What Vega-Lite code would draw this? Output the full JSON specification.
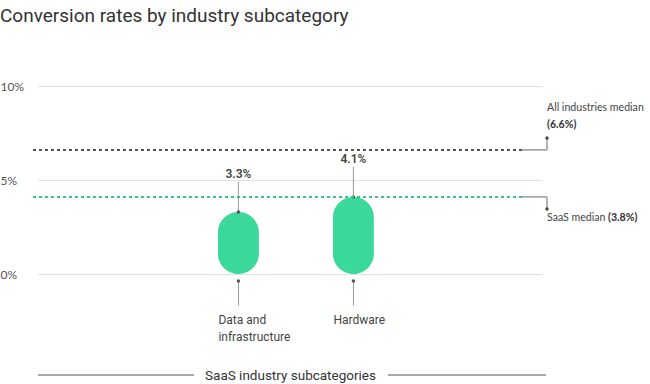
{
  "$schema": "https://vega.github.io/schema/vega-lite/v6.json",
  "autosize": {"type": "none"},
  "width": 504,
  "height": 188,
  "padding": {"left": 38, "top": 86, "right": 108, "bottom": 110},
  "background": "white",
  "title": {
    "text": "Conversion rates by industry subcategory",
    "anchor": "start",
    "frame": "group",
    "font": "Roboto",
    "fontSize": 19,
    "fontWeight": 400,
    "color": "#333333",
    "dx": -38,
    "dy": -50
  },
  "datasets": {
    "bars": [
      {"category": "Data and infrastructure", "value": 3.3, "label": "3.3%"},
      {"category": "Hardware", "value": 4.1, "label": "4.1%"}
    ],
    "medians": [
      {"type": "all", "name": "All industries median", "value": 6.6, "label": "(6.6%)"},
      {"type": "saas", "name": "SaaS median", "value": 4.1, "label": "(3.8%)"}
    ],
    "deco": [{"part": "line"}]
  },
  "config": {
    "view": {"stroke": null},
    "axis": {"labelFont": "Lato", "titleFont": "Roboto"}
  },
  "layer": [
    {
      "data": {"name": "bars"},
      "mark": {"type": "bar", "cornerRadius": 20.5, "color": "#3AD99A"},
      "encoding": {
        "x": {
          "field": "category",
          "type": "nominal",
          "sort": null,
          "scale": {"domain": [" ", "Data and infrastructure", "Hardware", "  "], "paddingInner": 0.643, "paddingOuter": 0.513, "align": 0.55},
          "axis": {
            "values": ["Data and infrastructure", "Hardware"],
            "orient": "bottom",
            "offset": 7,
            "domain": false,
            "ticks": true,
            "tickSize": 24,
            "tickColor": "#999999",
            "tickWidth": 1,
            "labelAngle": 0,
            "labelAlign": "left",
            "labelBaseline": "top",
            "labelOffset": -20,
            "labelPadding": 9,
            "labelFont": "Roboto",
            "labelFontSize": 12,
            "labelColor": "#444444",
            "labelLineHeight": 17,
            "labelExpr": "datum.label == 'Data and infrastructure' ? ['Data and', 'infrastructure'] : datum.label",
            "title": "SaaS industry subcategories",
            "titleFont": "Roboto",
            "titleFontSize": 13.5,
            "titleFontWeight": 400,
            "titleColor": "#333333",
            "titleY": 94,
            "titleBaseline": "middle"
          }
        },
        "y": {
          "field": "value",
          "type": "quantitative",
          "scale": {"domain": [0, 10], "nice": false},
          "axis": {
            "values": [0, 5, 10],
            "domain": false,
            "ticks": false,
            "grid": true,
            "gridColor": "#e0e0e0",
            "gridWidth": 1,
            "labelExpr": "datum.value + '%'",
            "labelAlign": "left",
            "labelBaseline": "middle",
            "labelPadding": 38,
            "labelFont": "Lato",
            "labelFontSize": 12,
            "labelColor": "#555555",
            "title": null
          }
        }
      }
    },
    {
      "data": {"name": "bars"},
      "mark": {"type": "rule", "color": "#999999", "strokeWidth": 1, "y2Offset": -30},
      "encoding": {
        "x": {"field": "category", "type": "nominal"},
        "y": {"field": "value", "type": "quantitative"},
        "y2": {"field": "value"}
      }
    },
    {
      "data": {"name": "bars"},
      "mark": {"type": "point", "filled": true, "color": "#555555", "size": 12, "opacity": 1},
      "encoding": {
        "x": {"field": "category", "type": "nominal"},
        "y": {"field": "value", "type": "quantitative"}
      }
    },
    {
      "data": {"name": "bars"},
      "mark": {"type": "point", "filled": true, "color": "#555555", "size": 12, "opacity": 1, "yOffset": 7},
      "encoding": {
        "x": {"field": "category", "type": "nominal"},
        "y": {"datum": 0, "type": "quantitative"}
      }
    },
    {
      "data": {"name": "bars"},
      "mark": {"type": "text", "font": "Roboto", "fontSize": 12, "fontWeight": 600, "color": "#444444", "baseline": "middle", "yOffset": -38},
      "encoding": {
        "x": {"field": "category", "type": "nominal"},
        "y": {"field": "value", "type": "quantitative"},
        "text": {"field": "label"}
      }
    },
    {
      "data": {"name": "medians"},
      "mark": {"type": "rule", "strokeWidth": 2, "strokeDash": [3, 3], "xOffset": -5, "x2Offset": -20},
      "encoding": {
        "x": {"value": 0},
        "x2": {"value": "width"},
        "y": {"field": "value", "type": "quantitative"},
        "color": {"field": "type", "type": "nominal", "scale": {"domain": ["all", "saas"], "range": ["#555555", "#3DBE8B"]}, "legend": null}
      }
    },
    {
      "data": {"name": "medians"},
      "mark": {"type": "rule", "strokeWidth": 1, "color": "#666666", "xOffset": -20, "x2Offset": 5},
      "encoding": {
        "x": {"value": "width"},
        "x2": {"value": "width"},
        "y": {"field": "value", "type": "quantitative"}
      }
    },
    {
      "data": {"name": "medians"},
      "transform": [{"filter": "datum.type == 'all'"}],
      "layer": [
        {
          "mark": {"type": "rule", "strokeWidth": 1, "color": "#666666", "xOffset": 5, "y2Offset": -12},
          "encoding": {
            "x": {"value": "width"},
            "y": {"field": "value", "type": "quantitative"},
            "y2": {"field": "value"}
          }
        },
        {
          "mark": {"type": "point", "filled": true, "color": "#444444", "size": 12, "opacity": 1, "xOffset": 5, "yOffset": -12},
          "encoding": {
            "x": {"value": "width"},
            "y": {"field": "value", "type": "quantitative"}
          }
        },
        {
          "mark": {"type": "text", "font": "Lato", "fontSize": 10.6, "color": "#444444", "align": "left", "baseline": "middle", "xOffset": 5, "yOffset": -42},
          "encoding": {
            "x": {"value": "width"},
            "y": {"field": "value", "type": "quantitative"},
            "text": {"field": "name"}
          }
        },
        {
          "mark": {"type": "text", "font": "Lato", "fontSize": 10.6, "fontWeight": "bold", "color": "#333333", "align": "left", "baseline": "middle", "xOffset": 5, "yOffset": -25},
          "encoding": {
            "x": {"value": "width"},
            "y": {"field": "value", "type": "quantitative"},
            "text": {"field": "label"}
          }
        }
      ]
    },
    {
      "data": {"name": "medians"},
      "transform": [{"filter": "datum.type == 'saas'"}],
      "layer": [
        {
          "mark": {"type": "rule", "strokeWidth": 1, "color": "#666666", "xOffset": 5, "y2Offset": 12},
          "encoding": {
            "x": {"value": "width"},
            "y": {"field": "value", "type": "quantitative"},
            "y2": {"field": "value"}
          }
        },
        {
          "mark": {"type": "point", "filled": true, "color": "#444444", "size": 12, "opacity": 1, "xOffset": 5, "yOffset": 12},
          "encoding": {
            "x": {"value": "width"},
            "y": {"field": "value", "type": "quantitative"}
          }
        },
        {
          "mark": {"type": "text", "font": "Lato", "fontSize": 10.6, "color": "#444444", "align": "left", "baseline": "middle", "xOffset": 5, "yOffset": 21},
          "encoding": {
            "x": {"value": "width"},
            "y": {"field": "value", "type": "quantitative"},
            "text": {"field": "name"}
          }
        },
        {
          "mark": {"type": "text", "font": "Lato", "fontSize": 10.6, "fontWeight": "bold", "color": "#333333", "align": "left", "baseline": "middle", "xOffset": 66, "yOffset": 21},
          "encoding": {
            "x": {"value": "width"},
            "y": {"field": "value", "type": "quantitative"},
            "text": {"field": "label"}
          }
        }
      ]
    },
    {
      "data": {"name": "deco"},
      "mark": {"type": "rule", "strokeWidth": 1.2, "color": "#555555", "yOffset": 101, "x2Offset": -96},
      "encoding": {
        "x": {"value": 0},
        "x2": {"value": {"expr": "width / 2"}},
        "y": {"value": "height"}
      }
    },
    {
      "data": {"name": "deco"},
      "mark": {"type": "rule", "strokeWidth": 1.2, "color": "#555555", "yOffset": 101, "xOffset": 98, "x2Offset": 4},
      "encoding": {
        "x": {"value": {"expr": "width / 2"}},
        "x2": {"value": "width"},
        "y": {"value": "height"}
      }
    }
  ]
}
